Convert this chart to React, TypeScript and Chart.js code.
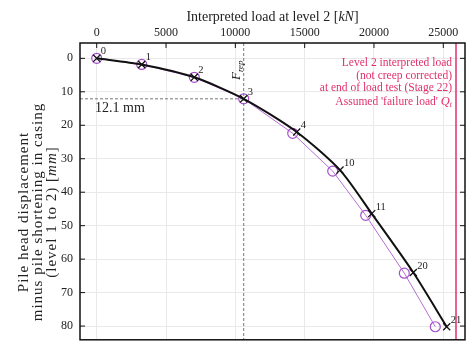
import React, { useEffect, useRef } from "react";
import { Chart, registerables } from "chart.js";

Chart.register(...registerables);

const xTicks = [0, 5000, 10000, 15000, 20000, 25000];
const yTicks = [0, 10, 20, 30, 40, 50, 60, 70, 80];
const stageLabels = ["0", "1", "2", "3", "4", "10", "11", "20", "21"];
const crossLoad = [0, 3246, 7040, 10603, 14426, 17549, 19836, 22836, 25245];
const crossDisp = [0, 1.83, 5.67, 12.1, 22.0, 33.4, 46.4, 64.0, 80.2];
const circleLoad = [0, 3246, 7040, 10603, 14137, 17022, 19403, 22187, 24423];
const circleDisp = [0, 1.83, 5.67, 12.1, 22.4, 33.7, 46.9, 64.2, 80.2];
const fRepLoad = 10603;
const fRepDisp = 12.1;
const failureLoad = 25916;
const redLines = ["Level 2 interpreted load", "(not creep corrected)", "at end of load test (Stage 22)"];

const SERIF = "'Liberation Serif', 'DejaVu Serif', serif";
const RED = "#e0306a";

type Part = { t: string; f: string; dy?: number };

function drawRich(ctx: CanvasRenderingContext2D, parts: Part[], x: number, y: number, align: "left" | "center" | "right") {
  let total = 0;
  for (const p of parts) {
    ctx.font = p.f;
    total += ctx.measureText(p.t).width;
  }
  let cx = align === "left" ? x : align === "center" ? x - total / 2 : x - total;
  ctx.textAlign = "left";
  for (const p of parts) {
    ctx.font = p.f;
    ctx.fillText(p.t, cx, y + (p.dy || 0));
    cx += ctx.measureText(p.t).width;
  }
}

const decorPlugin = {
  id: "decor",
  beforeDatasetsDraw(chart: any) {
    const { ctx, chartArea: a, scales } = chart;
    const xs = scales.x, ys = scales.y;
    ctx.save();
    ctx.strokeStyle = "#777";
    ctx.lineWidth = 1;
    ctx.setLineDash([3, 2]);
    const fx = xs.getPixelForValue(fRepLoad);
    const fy = ys.getPixelForValue(fRepDisp);
    ctx.beginPath();
    ctx.moveTo(fx, a.top);
    ctx.lineTo(fx, a.bottom);
    ctx.moveTo(a.left, fy);
    ctx.lineTo(fx, fy);
    ctx.stroke();
    ctx.setLineDash([]);
    const rx = xs.getPixelForValue(failureLoad);
    ctx.strokeStyle = RED;
    ctx.lineWidth = 1.5;
    ctx.beginPath();
    ctx.moveTo(rx, a.top);
    ctx.lineTo(rx, a.bottom);
    ctx.stroke();
    ctx.restore();
  },
  afterDraw(chart: any) {
    const { ctx, chartArea: a, scales } = chart;
    const xs = scales.x, ys = scales.y;
    ctx.save();
    ctx.strokeStyle = "#111";
    ctx.lineWidth = 1.5;
    ctx.strokeRect(a.left, a.top, a.right - a.left, a.bottom - a.top);
    ctx.lineWidth = 1;
    ctx.beginPath();
    for (const v of xTicks) {
      const px = xs.getPixelForValue(v);
      ctx.moveTo(px, a.top);
      ctx.lineTo(px, a.top + 5);
    }
    for (const v of yTicks) {
      const py = ys.getPixelForValue(v);
      ctx.moveTo(a.left, py);
      ctx.lineTo(a.left + 5, py);
      ctx.moveTo(a.right, py);
      ctx.lineTo(a.right - 5, py);
    }
    ctx.stroke();

    ctx.fillStyle = "#222";
    ctx.textBaseline = "alphabetic";
    drawRich(
      ctx,
      [
        { t: "Interpreted load at level 2 [", f: `14px ${SERIF}` },
        { t: "kN", f: `italic 14px ${SERIF}` },
        { t: "]", f: `14px ${SERIF}` },
      ],
      (a.left + a.right) / 2,
      21,
      "center"
    );
    ctx.save();
    ctx.translate(0, 212);
    ctx.rotate(-Math.PI / 2);
    (ctx as any).letterSpacing = "1px";
    drawRich(ctx, [{ t: "Pile head displacement", f: `15px ${SERIF}` }], 0, 28, "center");
    drawRich(ctx, [{ t: "minus pile shortening in casing", f: `15px ${SERIF}` }], 0, 42, "center");
    drawRich(
      ctx,
      [
        { t: "(level 1 to 2) [", f: `15px ${SERIF}` },
        { t: "mm", f: `italic 15px ${SERIF}` },
        { t: "]", f: `15px ${SERIF}` },
      ],
      0,
      56,
      "center"
    );
    (ctx as any).letterSpacing = "0px";
    ctx.restore();

    ctx.fillStyle = "#222";
    drawRich(ctx, [{ t: `${fRepDisp} mm`, f: `14px ${SERIF}` }], a.left + 15, ys.getPixelForValue(fRepDisp) + 13, "left");

    const fx = xs.getPixelForValue(fRepLoad);
    ctx.save();
    ctx.translate(fx - 4, a.top + 37);
    ctx.rotate(-Math.PI / 2);
    drawRich(
      ctx,
      [
        { t: "F", f: `italic 13px ${SERIF}` },
        { t: "rep", f: `italic 9px ${SERIF}`, dy: 3 },
      ],
      0,
      0,
      "left"
    );
    ctx.restore();

    ctx.fillStyle = RED;
    const rxRight = xs.getPixelForValue(failureLoad) - 4;
    redLines.forEach((line, i) => {
      drawRich(ctx, [{ t: line, f: `11.5px ${SERIF}` }], rxRight, a.top + 23 + i * 12.5, "right");
    });
    drawRich(
      ctx,
      [
        { t: "Assumed 'failure load' ", f: `11.5px ${SERIF}` },
        { t: "Q", f: `italic 12.5px ${SERIF}` },
        { t: "t", f: `italic 8px ${SERIF}`, dy: 2 },
      ],
      rxRight,
      a.top + 23 + 3 * 12.5 + 1,
      "right"
    );

    ctx.fillStyle = "#222";
    stageLabels.forEach((lab, i) => {
      const px = xs.getPixelForValue(crossLoad[i]);
      const py = ys.getPixelForValue(crossDisp[i]);
      drawRich(ctx, [{ t: lab, f: `10.5px ${SERIF}` }], px + 4, py - 4, "left");
    });
    ctx.restore();
  },
};

export default function App() {
  const ref = useRef<HTMLCanvasElement | null>(null);
  useEffect(() => {
    document.body.style.margin = "0";
    const canvas = ref.current!;
    const chart = new Chart(canvas, {
      type: "scatter",
      data: {
        datasets: [
          {
            label: "black",
            data: crossLoad.map((x, i) => ({ x, y: crossDisp[i] })),
            showLine: true,
            borderColor: "#111",
            borderWidth: 2,
            tension: 0.25,
            pointStyle: "crossRot",
            pointRadius: 5,
            pointBorderColor: "#111",
            pointBorderWidth: 1.3,
            pointBackgroundColor: "#111",
            order: 1,
          },
          {
            label: "purple",
            data: circleLoad.map((x, i) => ({ x, y: circleDisp[i] })),
            showLine: true,
            borderColor: "#b46fd2",
            borderWidth: 1,
            tension: 0,
            pointStyle: "circle",
            pointRadius: 5,
            pointBorderColor: "#a64fcb",
            pointBorderWidth: 1.2,
            pointBackgroundColor: "rgba(0,0,0,0)",
            order: 2,
          },
        ],
      },
      plugins: [decorPlugin],
      options: {
        animation: false,
        responsive: false,
        devicePixelRatio: 1,
        layout: { padding: { right: 9, bottom: 11, left: 0, top: 0 } },
        plugins: { legend: { display: false }, tooltip: { enabled: false } },
        scales: {
          x: {
            type: "linear",
            position: "top",
            min: -1205,
            max: 26565,
            afterBuildTicks: (s: any) => {
              s.ticks = xTicks.map((v) => ({ value: v }));
            },
            afterFit: (s: any) => {
              s.height = 43;
            },
            ticks: {
              font: { family: SERIF, size: 12 },
              color: "#222",
              padding: 3,
              maxRotation: 0,
              autoSkip: false,
              callback: (v: any) => String(v),
            },
            grid: { color: "#e9e9e9", drawTicks: false, lineWidth: 1 },
            border: { display: false },
          },
          y: {
            type: "linear",
            reverse: true,
            min: -4.58,
            max: 84.1,
            afterBuildTicks: (s: any) => {
              s.ticks = yTicks.map((v) => ({ value: v }));
            },
            afterFit: (s: any) => {
              s.width = 80;
            },
            ticks: {
              font: { family: SERIF, size: 12 },
              color: "#222",
              padding: 7,
              autoSkip: false,
              callback: (v: any) => String(v),
            },
            grid: { color: "#e9e9e9", drawTicks: false, lineWidth: 1 },
            border: { display: false },
          },
        },
      },
    } as any);
    return () => chart.destroy();
  }, []);
  return (
    <div style={{ position: "absolute", left: 0, top: 0, width: 474, height: 354, background: "#fff" }}>
      <canvas ref={ref} width={474} height={354} />
    </div>
  );
}
